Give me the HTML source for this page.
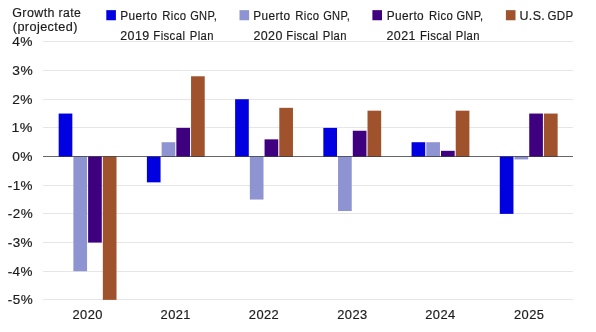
<!DOCTYPE html><html><head><meta charset="utf-8"><style>html,body{margin:0;padding:0;background:#fff;}svg{display:block;will-change:transform;font-family:"Liberation Sans",sans-serif;}</style></head><body>
<svg width="596" height="332" viewBox="0 0 596 332">
<rect width="596" height="332" fill="#fff"/>
<path d="M43.0 41.5H573.0" stroke="#e6e6e6" stroke-width="1"/>
<path d="M43.0 70.5H573.0" stroke="#e6e6e6" stroke-width="1"/>
<path d="M43.0 99.5H573.0" stroke="#e6e6e6" stroke-width="1"/>
<path d="M43.0 127.5H573.0" stroke="#e6e6e6" stroke-width="1"/>
<path d="M43.0 185.5H573.0" stroke="#e6e6e6" stroke-width="1"/>
<path d="M43.0 213.5H573.0" stroke="#e6e6e6" stroke-width="1"/>
<path d="M43.0 242.5H573.0" stroke="#e6e6e6" stroke-width="1"/>
<path d="M43.0 271.5H573.0" stroke="#e6e6e6" stroke-width="1"/>
<path d="M43.0 299.5H573.0" stroke="#e6e6e6" stroke-width="1"/>
<rect x="58.67" y="113.55" width="13.67" height="43.00" fill="#0000e0"/>
<rect x="73.39" y="156.55" width="13.67" height="114.67" fill="#8e94d1"/>
<rect x="88.12" y="156.55" width="13.67" height="86.00" fill="#3f007f"/>
<rect x="102.84" y="156.55" width="13.67" height="143.33" fill="#a0522d"/>
<rect x="146.90" y="156.55" width="13.67" height="25.80" fill="#0000e0"/>
<rect x="161.62" y="142.22" width="13.67" height="14.33" fill="#8e94d1"/>
<rect x="176.34" y="127.88" width="13.67" height="28.67" fill="#3f007f"/>
<rect x="191.06" y="76.28" width="13.67" height="80.27" fill="#a0522d"/>
<rect x="235.12" y="99.22" width="13.67" height="57.33" fill="#0000e0"/>
<rect x="249.84" y="156.55" width="13.67" height="43.00" fill="#8e94d1"/>
<rect x="264.56" y="139.35" width="13.67" height="17.20" fill="#3f007f"/>
<rect x="279.29" y="107.82" width="13.67" height="48.73" fill="#a0522d"/>
<rect x="323.34" y="127.88" width="13.67" height="28.67" fill="#0000e0"/>
<rect x="338.06" y="156.55" width="13.67" height="54.47" fill="#8e94d1"/>
<rect x="352.79" y="130.75" width="13.67" height="25.80" fill="#3f007f"/>
<rect x="367.51" y="110.68" width="13.67" height="45.87" fill="#a0522d"/>
<rect x="411.57" y="142.22" width="13.67" height="14.33" fill="#0000e0"/>
<rect x="426.29" y="142.22" width="13.67" height="14.33" fill="#8e94d1"/>
<rect x="441.01" y="150.82" width="13.67" height="5.73" fill="#3f007f"/>
<rect x="455.73" y="110.68" width="13.67" height="45.87" fill="#a0522d"/>
<rect x="499.79" y="156.55" width="13.67" height="57.33" fill="#0000e0"/>
<rect x="514.51" y="156.55" width="13.67" height="2.87" fill="#8e94d1"/>
<rect x="529.23" y="113.55" width="13.67" height="43.00" fill="#3f007f"/>
<rect x="543.96" y="113.55" width="13.67" height="43.00" fill="#a0522d"/>
<path d="M43.0 156.5H573.0" stroke="#00020c" stroke-opacity="0.6" stroke-width="1"/>
<rect x="106.3" y="10.15" width="9.6" height="10.1" fill="#0000e0"/>
<rect x="239.5" y="10.15" width="9.6" height="10.1" fill="#8e94d1"/>
<rect x="372.4" y="10.15" width="9.6" height="10.1" fill="#3f007f"/>
<rect x="505.9" y="10.15" width="9.6" height="10.1" fill="#a0522d"/>
<g fill="#1c1c1c" stroke="#1c1c1c" stroke-width="0.18" font-size="12.3" letter-spacing="0.4">
<text id="y9" x="33.05" y="45.70" text-anchor="end" textLength="20.78" lengthAdjust="spacingAndGlyphs">4%</text>
<text id="y8" x="33.13" y="74.70" text-anchor="end" textLength="20.78" lengthAdjust="spacingAndGlyphs">3%</text>
<text id="y7" x="33.04" y="103.70" text-anchor="end" textLength="20.78" lengthAdjust="spacingAndGlyphs">2%</text>
<text id="y6" x="32.96" y="131.70" text-anchor="end" textLength="21.46" lengthAdjust="spacingAndGlyphs">1%</text>
<text id="y5" x="32.99" y="160.70" text-anchor="end" textLength="20.78" lengthAdjust="spacingAndGlyphs">0%</text>
<text id="y4" x="32.99" y="189.70" text-anchor="end" textLength="25.25" lengthAdjust="spacingAndGlyphs">-1%</text>
<text id="y3" x="33.08" y="217.70" text-anchor="end" textLength="25.25" lengthAdjust="spacingAndGlyphs">-2%</text>
<text id="y2" x="33.00" y="246.70" text-anchor="end" textLength="25.25" lengthAdjust="spacingAndGlyphs">-3%</text>
<text id="y1" x="32.96" y="275.70" text-anchor="end" textLength="25.25" lengthAdjust="spacingAndGlyphs">-4%</text>
<text id="y0" x="33.11" y="303.70" text-anchor="end" textLength="25.25" lengthAdjust="spacingAndGlyphs">-5%</text>
<text id="x0" x="87.65" y="319.20" text-anchor="middle" textLength="30.35" lengthAdjust="spacingAndGlyphs">2020</text>
<text id="x1" x="175.73" y="319.20" text-anchor="middle" textLength="30.35" lengthAdjust="spacingAndGlyphs">2021</text>
<text id="x2" x="264.00" y="319.20" text-anchor="middle" textLength="30.35" lengthAdjust="spacingAndGlyphs">2022</text>
<text id="x3" x="352.41" y="319.20" text-anchor="middle" textLength="30.35" lengthAdjust="spacingAndGlyphs">2023</text>
<text id="x4" x="440.42" y="319.20" text-anchor="middle" textLength="30.35" lengthAdjust="spacingAndGlyphs">2024</text>
<text id="x5" x="529.15" y="319.20" text-anchor="middle" textLength="30.35" lengthAdjust="spacingAndGlyphs">2025</text>
<text id="tg" x="12.24" y="16.50" textLength="42.68" lengthAdjust="spacingAndGlyphs">Growth</text>
<text id="tr" x="58.60" y="16.50" textLength="22.63" lengthAdjust="spacingAndGlyphs">rate</text>
<text id="tp" x="12.81" y="30.50" textLength="64.99" lengthAdjust="spacingAndGlyphs">(projected)</text>
<text id="l0a0" x="120.30" y="19.80" textLength="37.20" lengthAdjust="spacingAndGlyphs">Puerto</text>
<text id="l0a1" x="162.27" y="19.80" textLength="24.12" lengthAdjust="spacingAndGlyphs">Rico</text>
<text id="l0a2" x="190.14" y="19.80" textLength="27.06" lengthAdjust="spacingAndGlyphs">GNP,</text>
<text id="l0b0" x="120.24" y="39.80" textLength="29.40" lengthAdjust="spacingAndGlyphs">2019</text>
<text id="l0b1" x="153.31" y="39.80" textLength="32.00" lengthAdjust="spacingAndGlyphs">Fiscal</text>
<text id="l0b2" x="189.78" y="39.80" textLength="24.01" lengthAdjust="spacingAndGlyphs">Plan</text>
<text id="l1a0" x="253.30" y="19.80" textLength="37.20" lengthAdjust="spacingAndGlyphs">Puerto</text>
<text id="l1a1" x="295.27" y="19.80" textLength="24.12" lengthAdjust="spacingAndGlyphs">Rico</text>
<text id="l1a2" x="323.14" y="19.80" textLength="27.06" lengthAdjust="spacingAndGlyphs">GNP,</text>
<text id="l1b0" x="253.40" y="39.80" textLength="29.40" lengthAdjust="spacingAndGlyphs">2020</text>
<text id="l1b1" x="286.31" y="39.80" textLength="32.00" lengthAdjust="spacingAndGlyphs">Fiscal</text>
<text id="l1b2" x="322.78" y="39.80" textLength="24.01" lengthAdjust="spacingAndGlyphs">Plan</text>
<text id="l2a0" x="386.84" y="19.80" textLength="37.20" lengthAdjust="spacingAndGlyphs">Puerto</text>
<text id="l2a1" x="429.02" y="19.80" textLength="24.12" lengthAdjust="spacingAndGlyphs">Rico</text>
<text id="l2a2" x="456.42" y="19.80" textLength="27.06" lengthAdjust="spacingAndGlyphs">GNP,</text>
<text id="l2b0" x="386.53" y="39.80" textLength="29.40" lengthAdjust="spacingAndGlyphs">2021</text>
<text id="l2b1" x="419.92" y="39.80" textLength="32.00" lengthAdjust="spacingAndGlyphs">Fiscal</text>
<text id="l2b2" x="455.84" y="39.80" textLength="24.01" lengthAdjust="spacingAndGlyphs">Plan</text>
<text id="l3a0" x="519.41" y="19.80" textLength="25.78" lengthAdjust="spacingAndGlyphs">U.S.</text>
<text id="l3a1" x="547.38" y="19.80" textLength="26.16" lengthAdjust="spacingAndGlyphs">GDP</text>
</g></svg></body></html>
